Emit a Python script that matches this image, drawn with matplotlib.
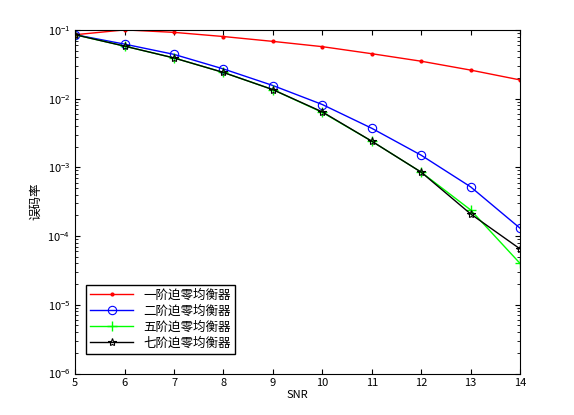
import numpy as np
import matplotlib
matplotlib.use("Agg")
import matplotlib.pyplot as plt

plt.rcParams['font.family'] = ['Noto Sans CJK SC', 'DejaVu Sans']

snr = [5, 6, 7, 8, 9, 10, 11, 12, 13, 14]
ber_1 = [0.085, 0.1, 0.092, 0.08, 0.068, 0.057, 0.045, 0.035, 0.026, 0.0187]
ber_2 = [0.085, 0.062, 0.044, 0.027, 0.0155, 0.0082, 0.0037, 0.0015, 0.00052, 0.00013]
ber_5 = [0.085, 0.058, 0.039, 0.024, 0.0135, 0.0063, 0.0024, 0.00085, 0.00024, 0.00004]
ber_7 = [0.085, 0.058, 0.039, 0.024, 0.0135, 0.0064, 0.0024, 0.00085, 0.00021, 0.000065]
labels = ['一阶迫零均衡器', '二阶迫零均衡器', '五阶迫零均衡器', '七阶迫零均衡器']

fig = plt.figure(figsize=(5.74, 4.15), dpi=100)
ax = fig.add_axes([0.131, 0.1, 0.775, 0.828])
ax.semilogy(snr, ber_1, 'r.-', lw=1, ms=4, label=labels[0])
ax.semilogy(snr, ber_2, 'bo-', lw=1, ms=6, mfc='none', mew=0.8, label=labels[1])
ax.semilogy(snr, ber_5, '+-', color='#00ff00', lw=1, ms=7, label=labels[2])
ax.semilogy(snr, ber_7, 'k*-', lw=1, ms=6, mfc='none', mew=0.8, label=labels[3])
ax.set_xlim(5, 14)
ax.set_ylim(1e-6, 1e-1)
ax.set_xticks(snr)
ax.tick_params(direction='in', labelsize=8, which='both', top=True, right=True)
ax.set_xlabel('SNR', fontsize=8, labelpad=1)
ax.set_ylabel('误码率', fontsize=9)
leg = ax.legend(loc='lower left', bbox_to_anchor=(0.01, 0.04), fontsize=9,
                fancybox=False, edgecolor='k', framealpha=1, handlelength=3.5,
                borderpad=0.3, labelspacing=0.25)
fig.savefig('out.png')
